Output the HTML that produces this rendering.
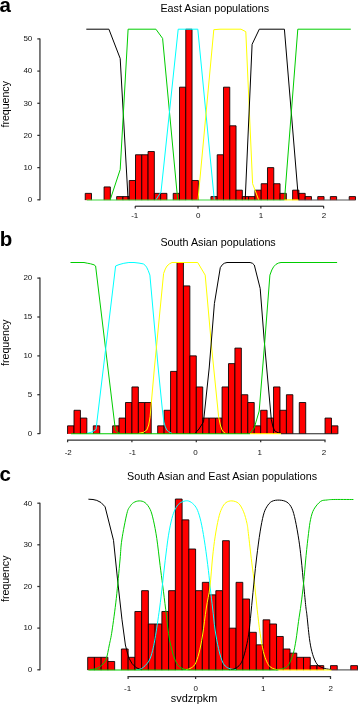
<!DOCTYPE html>
<html lang="en"><head><meta charset="utf-8"><title>Figure</title>
<style>html,body{margin:0;padding:0;background:#fff;}body{width:358px;height:704px;overflow:hidden;position:relative;}</style>
</head><body>
<svg width="358" height="704" viewBox="0 0 358 704" style="display:block;position:absolute;left:0;top:0">
<rect width="358" height="704" fill="#fff"/>
<g>
<g fill="#ff0000" stroke="#000" stroke-width="0.85" stroke-linejoin="miter">
<path d="M85.22 200.10V193.36H91.50V200.10"/>
<path d="M104.07 200.10V186.93H110.36V200.10"/>
<path d="M116.64 200.10V196.58H122.93V200.10"/>
<path d="M122.93 200.10V196.58H129.22V200.10"/>
<path d="M129.22 200.10V180.49H135.50V200.10"/>
<path d="M135.50 200.10V154.75H141.78V200.10"/>
<path d="M141.78 200.10V154.75H148.07V200.10"/>
<path d="M148.07 200.10V151.53H154.35V200.10"/>
<path d="M154.35 200.10V193.36H160.64V200.10"/>
<path d="M160.64 200.10V193.36H166.92V200.10"/>
<path d="M173.21 200.10V193.36H179.50V200.10"/>
<path d="M179.50 200.10V87.17H185.78V200.10"/>
<path d="M185.78 200.10V29.25H192.06V200.10"/>
<path d="M192.06 200.10V180.49H198.35V200.10"/>
<path d="M210.92 200.10V196.58H217.20V200.10"/>
<path d="M217.20 200.10V154.75H223.49V200.10"/>
<path d="M223.49 200.10V87.17H229.77V200.10"/>
<path d="M229.78 200.10V125.79H236.06V200.10"/>
<path d="M236.06 200.10V190.15H242.34V200.10"/>
<path d="M242.34 200.10V196.58H248.63V200.10"/>
<path d="M248.63 200.10V196.58H254.91V200.10"/>
<path d="M254.91 200.10V190.15H261.20V200.10"/>
<path d="M261.20 200.10V183.71H267.49V200.10"/>
<path d="M267.49 200.10V167.62H273.77V200.10"/>
<path d="M273.77 200.10V183.71H280.06V200.10"/>
<path d="M280.06 200.10V193.36H286.34V200.10"/>
<path d="M292.62 200.10V190.15H298.91V200.10"/>
<path d="M298.91 200.10V193.36H305.20V200.10"/>
<path d="M305.20 200.10V196.58H311.48V200.10"/>
<path d="M317.76 200.10V196.58H324.05V200.10"/>
<path d="M330.34 200.10V196.58H336.62V200.10"/>
<path d="M349.19 200.10V196.58H355.48V200.10"/>
</g>
<g fill="none" stroke-width="1.00" stroke-linejoin="round">
<polyline stroke="#000000" points="86.3,29.2 108.9,29.2 120.2,58.5 128.1,199.8"/>
<polyline stroke="#00cd00" points="110.2,199.8 120.2,169.5 128.1,29.2 155.9,29.2 162.6,38.4 177.7,199.8"/>
<polyline stroke="#00ffff" points="155.9,199.8 161.0,192.0 178.2,29.2 197.8,29.2 214.3,199.8"/>
<polyline stroke="#ffff00" points="198.0,199.8 213.8,29.7 220.0,29.2 241.0,29.2 245.8,31.7 252.6,183.7 258.6,199.8"/>
<polyline stroke="#000000" points="245.2,199.8 252.1,44.3 259.3,29.2 284.4,29.2 298.5,199.8"/>
<polyline stroke="#00cd00" points="284.5,199.8 297.8,29.2 350.8,29.2"/>
<path stroke="#3fd63f" stroke-width="1.05" d="M86.7 199.9 H284.5"/>
<path stroke="#ffff00" stroke-width="1.05" d="M284.5 199.9 H298.5"/>
<path stroke="#555" stroke-width="1.05" d="M298.5 199.9 H355.5"/>
</g>
<g stroke="#333333" stroke-width="1.25" fill="none">
<path d="M39.95 38.4 V200.3"/>
<path d="M37.3 199.8 H40"/>
<path d="M37.3 167.6 H40"/>
<path d="M37.3 135.4 H40"/>
<path d="M37.3 103.3 H40"/>
<path d="M37.3 71.1 H40"/>
<path d="M37.3 38.9 H40"/>
</g>
<g font-family='"Liberation Sans", Arial, sans-serif' font-size="8.0" fill="#111111" text-anchor="end">
<text x="32.3" y="202.1">0</text>
<text x="32.3" y="169.9">10</text>
<text x="32.3" y="137.7">20</text>
<text x="32.3" y="105.6">30</text>
<text x="32.3" y="73.4">40</text>
<text x="32.3" y="41.2">50</text>
</g>
<path d="M135.2 208.5 V206.2 H323.7 V208.5 M198.0 206.2 V208.5 M260.9 206.2 V208.5" stroke="#000" stroke-width="1" fill="none"/>
<g font-family='"Liberation Sans", Arial, sans-serif' font-size="8.0" fill="#111111" text-anchor="middle">
<text x="134.7" y="218.0">-1</text>
<text x="198.2" y="218.0">0</text>
<text x="261.1" y="218.0">1</text>
<text x="323.9" y="218.0">2</text>
</g>
<text x="-0.4" y="11.6" font-family='"Liberation Sans", Arial, sans-serif' font-size="20.5" font-weight="bold" fill="#000">a</text>
<text x="160.4" y="11.7" font-family='"Liberation Sans", Arial, sans-serif' font-size="10.75" fill="#000">East Asian populations</text>
<text transform="translate(9.2 104.3) rotate(-90)" text-anchor="middle" font-family='"Liberation Sans", Arial, sans-serif' font-size="10.6" fill="#000">frequency</text>
</g>
<g>
<g fill="#ff0000" stroke="#000" stroke-width="0.85" stroke-linejoin="miter">
<path d="M67.56 433.90V425.83H74.00V433.90"/>
<path d="M74.00 433.90V410.28H80.43V433.90"/>
<path d="M80.43 433.90V418.05H86.87V433.90"/>
<path d="M93.31 433.90V425.83H99.74V433.90"/>
<path d="M112.62 433.90V425.83H119.06V433.90"/>
<path d="M119.06 433.90V418.05H125.49V433.90"/>
<path d="M125.49 433.90V402.50H131.93V433.90"/>
<path d="M131.93 433.90V386.95H138.37V433.90"/>
<path d="M138.37 433.90V402.50H144.80V433.90"/>
<path d="M144.80 433.90V402.50H151.24V433.90"/>
<path d="M157.68 433.90V425.83H164.12V433.90"/>
<path d="M164.12 433.90V410.28H170.55V433.90"/>
<path d="M170.55 433.90V371.40H176.99V433.90"/>
<path d="M176.99 433.90V262.55H183.43V433.90"/>
<path d="M183.43 433.90V285.88H189.86V433.90"/>
<path d="M189.86 433.90V355.85H196.30V433.90"/>
<path d="M196.30 433.90V386.95H202.74V433.90"/>
<path d="M202.74 433.90V418.05H209.17V433.90"/>
<path d="M209.17 433.90V418.05H215.61V433.90"/>
<path d="M215.61 433.90V418.05H222.05V433.90"/>
<path d="M222.05 433.90V386.95H228.49V433.90"/>
<path d="M228.49 433.90V363.62H234.92V433.90"/>
<path d="M234.92 433.90V348.08H241.36V433.90"/>
<path d="M241.36 433.90V394.73H247.80V433.90"/>
<path d="M247.80 433.90V402.50H254.23V433.90"/>
<path d="M254.23 433.90V425.83H260.67V433.90"/>
<path d="M260.67 433.90V410.28H267.11V433.90"/>
<path d="M267.11 433.90V418.05H273.54V433.90"/>
<path d="M273.54 433.90V386.95H279.98V433.90"/>
<path d="M279.98 433.90V410.28H286.42V433.90"/>
<path d="M286.42 433.90V394.73H292.86V433.90"/>
<path d="M299.29 433.90V402.50H305.73V433.90"/>
<path d="M325.04 433.90V418.05H331.48V433.90"/>
<path d="M331.48 433.90V425.83H337.91V433.90"/>
</g>
<g fill="none" stroke-width="1.00" stroke-linejoin="round">
<polyline stroke="#00cd00" points="70.5,262.5 84.0,262.5 87.3,263.2 90.6,263.8 94.0,264.8 95.6,266.0 115.4,430.0 117.5,432.3 120.0,433.4"/>
<polyline stroke="#00ffff" points="86.8,433.4 92.0,432.0 96.0,429.5 115.6,266.0 119.0,264.6 123.8,263.3 128.9,262.5 134.0,262.5 139.0,263.1 143.3,263.9 145.2,265.3 146.6,267.2 148.2,270.5 149.9,275.1 158.2,368.0 162.4,410.0 163.9,422.0 165.3,426.8 166.8,430.0 168.6,431.8 172.0,433.4"/>
<polyline stroke="#ffff00" points="138.5,433.4 143.5,432.3 146.8,430.0 148.7,425.0 150.1,416.7 154.4,368.0 163.6,273.5 165.3,269.0 167.0,266.0 169.5,263.8 172.0,262.5 175.0,262.5 197.7,262.5 205.2,275.1 211.7,348.0 218.6,416.7 220.3,425.0 222.0,430.0 223.5,432.0 225.5,433.4"/>
<polyline stroke="#000000" points="195.0,433.4 199.0,429.0 203.5,421.8 209.2,368.0 214.4,303.6 220.3,267.6 222.5,264.5 224.5,263.2 227.0,262.5 250.1,262.5 252.5,263.3 254.3,265.0 260.2,288.5 264.2,340.0 271.3,419.5 273.0,427.0 274.8,431.0 278.0,432.7 281.0,433.4"/>
<polyline stroke="#00cd00" points="250.0,433.4 254.2,428.0 259.2,411.0 264.9,340.0 269.9,275.1 271.8,270.0 273.6,266.8 276.0,264.3 278.6,263.0 281.0,262.5 337.1,262.5"/>
<path stroke="#00cd00" stroke-width="1.05" d="M70.9 433.7 H250.0"/>
<path stroke="#ffff00" stroke-width="1.05" d="M250.0 433.7 H281.0"/>
<path stroke="#222" stroke-width="1.05" d="M281.0 433.7 H337.8"/>
</g>
<g stroke="#333333" stroke-width="1.25" fill="none">
<path d="M39.95 277.6 V434.1"/>
<path d="M37.3 433.6 H40"/>
<path d="M37.3 394.7 H40"/>
<path d="M37.3 355.9 H40"/>
<path d="M37.3 317.0 H40"/>
<path d="M37.3 278.1 H40"/>
</g>
<g font-family='"Liberation Sans", Arial, sans-serif' font-size="8.0" fill="#111111" text-anchor="end">
<text x="32.3" y="435.9">0</text>
<text x="32.3" y="397.0">5</text>
<text x="32.3" y="358.2">10</text>
<text x="32.3" y="319.3">15</text>
<text x="32.3" y="280.4">20</text>
</g>
<path d="M67.6 442.3 V440.0 H325.0 V442.3 M131.9 440.0 V442.3 M196.3 440.0 V442.3 M260.7 440.0 V442.3" stroke="#333333" stroke-width="1.25" fill="none"/>
<g font-family='"Liberation Sans", Arial, sans-serif' font-size="8.0" fill="#111111" text-anchor="middle">
<text x="68.2" y="455.2">-2</text>
<text x="132.5" y="455.2">-1</text>
<text x="195.4" y="455.2">0</text>
<text x="259.8" y="455.2">1</text>
<text x="324.1" y="455.2">2</text>
</g>
<text x="-0.2" y="245.5" font-family='"Liberation Sans", Arial, sans-serif' font-size="20.5" font-weight="bold" fill="#000">b</text>
<text x="160.4" y="245.6" font-family='"Liberation Sans", Arial, sans-serif' font-size="10.75" fill="#000">South Asian populations</text>
<text transform="translate(9.2 342.7) rotate(-90)" text-anchor="middle" font-family='"Liberation Sans", Arial, sans-serif' font-size="10.6" fill="#000">frequency</text>
</g>
<g>
<g fill="#ff0000" stroke="#000" stroke-width="0.85" stroke-linejoin="miter">
<path d="M87.68 670.10V657.30H94.42V670.10"/>
<path d="M94.42 670.10V657.30H101.17V670.10"/>
<path d="M101.17 670.10V657.30H107.92V670.10"/>
<path d="M107.91 670.10V661.47H114.66V670.10"/>
<path d="M121.40 670.10V648.97H128.15V670.10"/>
<path d="M128.15 670.10V657.30H134.89V670.10"/>
<path d="M134.89 670.10V611.49H141.64V670.10"/>
<path d="M141.64 670.10V590.66H148.38V670.10"/>
<path d="M148.38 670.10V623.98H155.13V670.10"/>
<path d="M155.13 670.10V623.98H161.88V670.10"/>
<path d="M161.88 670.10V611.49H168.62V670.10"/>
<path d="M168.62 670.10V590.66H175.37V670.10"/>
<path d="M175.37 670.10V499.03H182.11V670.10"/>
<path d="M182.11 670.10V519.86H188.85V670.10"/>
<path d="M188.85 670.10V549.01H195.60V670.10"/>
<path d="M195.60 670.10V590.66H202.34V670.10"/>
<path d="M202.34 670.10V582.33H209.09V670.10"/>
<path d="M209.09 670.10V594.83H215.84V670.10"/>
<path d="M215.83 670.10V590.66H222.58V670.10"/>
<path d="M222.58 670.10V540.68H229.32V670.10"/>
<path d="M229.32 670.10V628.15H236.07V670.10"/>
<path d="M236.07 670.10V582.33H242.81V670.10"/>
<path d="M242.81 670.10V598.99H249.56V670.10"/>
<path d="M249.56 670.10V632.31H256.31V670.10"/>
<path d="M256.31 670.10V644.81H263.05V670.10"/>
<path d="M263.05 670.10V619.82H269.80V670.10"/>
<path d="M269.80 670.10V623.98H276.54V670.10"/>
<path d="M276.54 670.10V636.48H283.28V670.10"/>
<path d="M283.28 670.10V648.97H290.03V670.10"/>
<path d="M290.03 670.10V653.14H296.77V670.10"/>
<path d="M296.77 670.10V657.30H303.52V670.10"/>
<path d="M303.52 670.10V657.30H310.26V670.10"/>
<path d="M310.26 670.10V665.63H317.01V670.10"/>
<path d="M317.01 670.10V665.63H323.75V670.10"/>
<path d="M330.50 670.10V665.63H337.25V670.10"/>
<path d="M350.74 670.10V665.63H357.48V670.10"/>
</g>
<g fill="none" stroke-width="1.00" stroke-linejoin="round">
<polyline stroke="#000000" points="88.4,499.2 93.0,499.5 96.8,500.4 101.0,502.5 105.1,506.8 113.5,540.3 118.0,584.0 122.0,619.8 125.4,645.0 128.6,657.5 132.0,663.5 136.1,667.7 141.0,669.6"/>
<path stroke="#00cd00" d="M90.00 669.60 C91.13 669.42 94.83 669.25 96.80 668.50 C98.77 667.75 100.23 666.68 101.80 665.10 C103.37 663.52 104.95 662.35 106.20 659.00 C107.45 655.65 108.33 649.67 109.30 645.00 C110.27 640.33 110.83 638.77 112.00 631.00 C113.17 623.23 114.97 610.23 116.30 598.40 C117.63 586.57 119.08 569.73 120.00 560.00 C120.92 550.27 120.65 547.75 121.80 540.00 C122.95 532.25 125.53 519.08 126.90 513.50 C128.27 507.92 128.88 508.32 130.00 506.50 C131.12 504.68 132.07 503.53 133.60 502.60 C135.13 501.67 137.30 500.90 139.20 500.90 C141.10 500.90 143.18 501.20 145.00 502.60 C146.82 504.00 148.70 506.37 150.10 509.30 C151.50 512.23 152.28 515.32 153.40 520.20 C154.52 525.08 155.68 531.07 156.80 538.60 C157.92 546.13 159.12 557.58 160.10 565.40 C161.08 573.22 161.77 578.15 162.70 585.50 C163.63 592.85 164.73 601.53 165.70 609.50 C166.67 617.47 167.47 626.55 168.50 633.30 C169.53 640.05 170.78 645.53 171.90 650.00 C173.02 654.47 174.08 657.43 175.20 660.10 C176.32 662.77 177.20 664.52 178.60 666.00 C180.00 667.48 182.03 668.40 183.60 669.00 C185.17 669.60 187.27 669.50 188.00 669.60"/>
<path stroke="#00ffff" d="M136.00 669.60 C136.95 669.42 139.63 669.80 141.70 668.50 C143.77 667.20 146.72 664.32 148.40 661.80 C150.08 659.28 150.68 657.32 151.80 653.40 C152.92 649.48 153.82 645.70 155.10 638.30 C156.38 630.90 158.28 617.88 159.50 609.00 C160.72 600.12 161.45 593.10 162.40 585.00 C163.35 576.90 164.18 568.70 165.20 560.40 C166.22 552.10 167.38 542.18 168.50 535.20 C169.62 528.22 170.78 522.82 171.90 518.50 C173.02 514.18 173.95 511.82 175.20 509.30 C176.45 506.78 177.72 504.80 179.40 503.40 C181.08 502.00 183.53 501.20 185.30 500.90 C187.07 500.60 188.38 500.77 190.00 501.60 C191.62 502.43 193.60 504.07 195.00 505.90 C196.40 507.73 197.28 509.38 198.40 512.60 C199.52 515.82 200.58 519.75 201.70 525.20 C202.82 530.65 203.98 537.77 205.10 545.30 C206.22 552.83 207.50 562.95 208.40 570.40 C209.30 577.85 209.80 583.73 210.50 590.00 C211.20 596.27 211.83 601.33 212.60 608.00 C213.37 614.67 214.12 623.27 215.10 630.00 C216.08 636.73 217.38 643.38 218.50 648.40 C219.62 653.42 220.68 657.17 221.80 660.10 C222.92 663.03 223.80 664.55 225.20 666.00 C226.60 667.45 228.40 668.20 230.20 668.80 C232.00 669.40 235.03 669.47 236.00 669.60"/>
<path stroke="#ffff00" d="M186.00 669.60 C186.67 669.42 188.50 669.38 190.00 668.50 C191.50 667.62 193.50 666.88 195.00 664.30 C196.50 661.72 197.73 657.88 199.00 653.00 C200.27 648.12 201.38 642.50 202.60 635.00 C203.82 627.50 205.08 616.00 206.30 608.00 C207.52 600.00 208.85 595.50 209.90 587.00 C210.95 578.50 211.73 565.35 212.60 557.00 C213.47 548.65 214.12 543.32 215.10 536.90 C216.08 530.48 217.38 523.25 218.50 518.50 C219.62 513.75 220.55 511.05 221.80 508.40 C223.05 505.75 224.32 503.85 226.00 502.60 C227.68 501.35 229.80 500.77 231.90 500.90 C234.00 501.03 236.65 501.58 238.60 503.40 C240.55 505.22 242.20 508.45 243.60 511.80 C245.00 515.15 246.20 519.87 247.00 523.50 C247.80 527.13 247.62 527.17 248.40 533.60 C249.18 540.03 250.67 553.62 251.70 562.10 C252.73 570.58 253.68 576.60 254.60 584.50 C255.52 592.40 256.28 601.37 257.20 609.50 C258.12 617.63 259.07 626.27 260.10 633.30 C261.13 640.33 262.28 646.95 263.40 651.70 C264.52 656.45 265.68 659.28 266.80 661.80 C267.92 664.32 268.70 665.55 270.10 666.80 C271.50 668.05 273.72 668.83 275.20 669.30 C276.68 669.77 278.37 669.55 279.00 669.60"/>
<path stroke="#000000" d="M231.00 669.60 C231.70 669.42 233.65 669.38 235.20 668.50 C236.75 667.62 238.90 666.25 240.30 664.30 C241.70 662.35 242.48 660.28 243.60 656.80 C244.72 653.32 246.07 647.87 247.00 643.40 C247.93 638.93 248.42 636.32 249.20 630.00 C249.98 623.68 250.87 613.83 251.70 605.50 C252.53 597.17 253.37 588.08 254.20 580.00 C255.03 571.92 255.72 565.02 256.70 557.00 C257.68 548.98 258.98 538.88 260.10 531.90 C261.22 524.92 262.28 519.28 263.40 515.10 C264.52 510.92 265.40 509.08 266.80 506.80 C268.20 504.52 269.70 502.52 271.80 501.40 C273.90 500.28 276.88 499.98 279.40 500.10 C281.92 500.22 284.82 500.72 286.90 502.10 C288.98 503.48 290.50 505.38 291.90 508.40 C293.30 511.42 294.13 514.88 295.30 520.20 C296.47 525.52 297.92 533.83 298.90 540.30 C299.88 546.77 300.38 551.38 301.20 559.00 C302.02 566.62 303.03 578.08 303.80 586.00 C304.57 593.92 305.28 601.68 305.80 606.50 C306.32 611.32 306.30 609.60 306.90 614.90 C307.50 620.20 308.57 632.17 309.40 638.30 C310.23 644.43 310.93 647.92 311.90 651.70 C312.87 655.48 314.03 658.62 315.20 661.00 C316.37 663.38 317.30 664.75 318.90 666.00 C320.50 667.25 322.70 667.90 324.80 668.50 C326.90 669.10 330.38 669.42 331.50 669.60"/>
<path stroke="#00cd00" d="M278.50 669.40 C279.62 669.12 283.38 668.68 285.20 667.70 C287.02 666.72 288.05 665.88 289.40 663.50 C290.75 661.12 292.20 657.32 293.30 653.40 C294.40 649.48 295.13 645.30 296.00 640.00 C296.87 634.70 297.65 627.60 298.50 621.60 C299.35 615.60 300.25 610.43 301.10 604.00 C301.95 597.57 302.77 591.10 303.60 583.00 C304.43 574.90 305.28 563.63 306.10 555.40 C306.92 547.17 307.75 539.62 308.50 533.60 C309.25 527.58 309.70 523.35 310.60 519.30 C311.50 515.25 312.23 512.28 313.90 509.30 C315.57 506.32 318.42 502.95 320.60 501.40 C322.78 499.85 324.90 500.32 327.00 500.00 C329.10 499.68 328.80 499.58 333.20 499.50 C337.60 499.42 350.03 499.50 353.40 499.50"/>
<path stroke="#00cd00" stroke-width="1.05" d="M88.4 669.9 H278.5"/>
<path stroke="#ffff00" stroke-width="1.05" d="M278.5 669.9 H331.5"/>
<path stroke="#444" stroke-width="1.05" d="M331.5 669.9 H358.0"/>
</g>
<g stroke="#333333" stroke-width="1.25" fill="none">
<path d="M39.95 502.7 V670.3"/>
<path d="M37.3 669.8 H40"/>
<path d="M37.3 628.1 H40"/>
<path d="M37.3 586.5 H40"/>
<path d="M37.3 544.8 H40"/>
<path d="M37.3 503.2 H40"/>
</g>
<g font-family='"Liberation Sans", Arial, sans-serif' font-size="8.0" fill="#111111" text-anchor="end">
<text x="32.3" y="672.1">0</text>
<text x="32.3" y="630.4">10</text>
<text x="32.3" y="588.8">20</text>
<text x="32.3" y="547.1">30</text>
<text x="32.3" y="505.5">40</text>
</g>
<path d="M128.1 678.9 V676.6 H330.5 V678.9 M195.6 676.6 V678.9 M263.1 676.6 V678.9" stroke="#333333" stroke-width="1.25" fill="none"/>
<g font-family='"Liberation Sans", Arial, sans-serif' font-size="8.0" fill="#111111" text-anchor="middle">
<text x="127.6" y="691.2">-1</text>
<text x="195.8" y="691.2">0</text>
<text x="263.2" y="691.2">1</text>
<text x="330.7" y="691.2">2</text>
</g>
<text x="-0.4" y="480.5" font-family='"Liberation Sans", Arial, sans-serif' font-size="20.5" font-weight="bold" fill="#000">c</text>
<text x="127.0" y="480.4" font-family='"Liberation Sans", Arial, sans-serif' font-size="10.75" fill="#000">South Asian and East Asian populations</text>
<text transform="translate(9.2 578.8) rotate(-90)" text-anchor="middle" font-family='"Liberation Sans", Arial, sans-serif' font-size="10.6" fill="#000">frequency</text>
</g>
<text x="194.1" y="702.4" text-anchor="middle" font-family='"Liberation Sans", Arial, sans-serif' font-size="10.9" fill="#000">svdzrpkm</text>
</svg>
</body></html>
